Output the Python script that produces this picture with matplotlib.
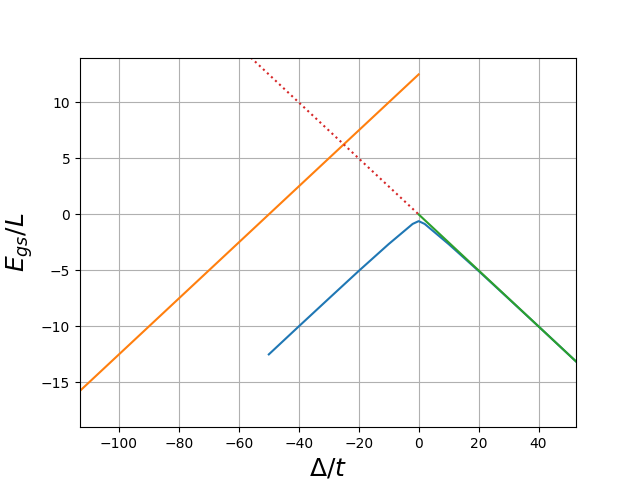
import matplotlib
matplotlib.use("Agg")
import matplotlib.pyplot as plt

orange_x = [-113, 0]
orange_y = [-15.75, 12.5]
red_x = [-60, 0]
red_y = [15.0, 0.0]
green_x = [0, 52.5]
green_y = [0.0, -13.125]
blue_x = [-50, -40, -30, -20, -10, -6, -4, -2, 0, 2, 4, 6, 10, 20, 30, 40, 52.5]
blue_y = [-12.5, -10.0, -7.52, -5.05, -2.65, -1.75, -1.3, -0.85, -0.6, -0.85, -1.3, -1.75, -2.65, -5.05, -7.52, -10.0, -13.13]

fig, ax = plt.subplots(figsize=(6.4, 4.8), dpi=100)
ax.plot(blue_x, blue_y, color="C0")
ax.plot(orange_x, orange_y, color="C1")
ax.plot(green_x, green_y, color="C2")
ax.plot(red_x, red_y, color="C3", linestyle=":")
ax.set_xlim(-113, 52.5)
ax.set_ylim(-19, 14)
ax.grid(True)
ax.set_xlabel(r"$\Delta/t$", fontsize=18)
ax.set_ylabel(r"$E_{gs}/L$", fontsize=18)
fig.savefig("out.png")
